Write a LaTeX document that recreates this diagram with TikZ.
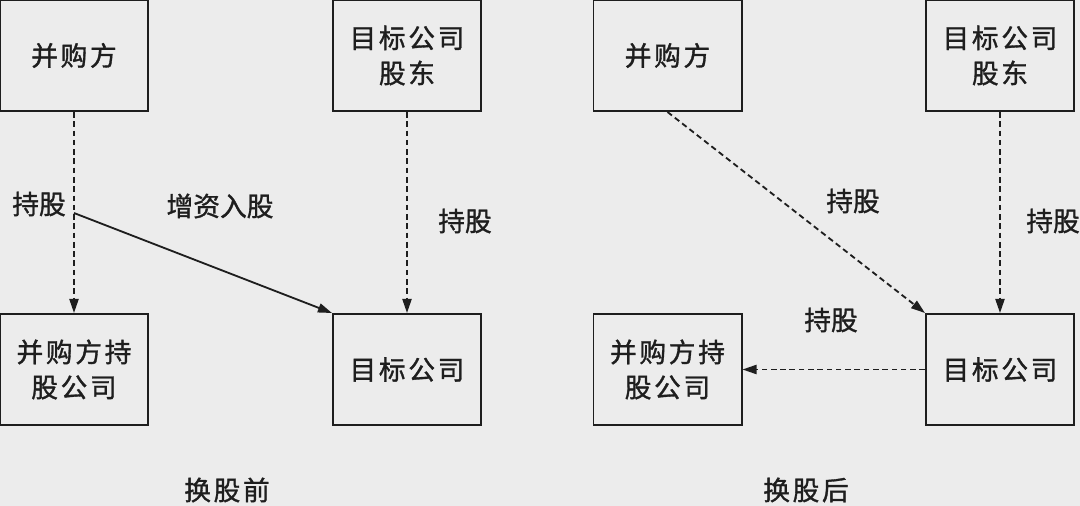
\documentclass[tikz,border=0pt]{standalone}
\usepackage{fontspec}
\setmainfont{Noto Sans CJK SC}
\newfontfamily\cjk[LetterSpace=10,FakeBold=1.2]{Noto Sans CJK SC}
\newfontfamily\cjklab[FakeBold=1.2]{Noto Sans CJK SC}
\usetikzlibrary{arrows.meta}
\definecolor{bg}{RGB}{236,236,236}
\definecolor{ink}{RGB}{30,30,30}
\tikzset{
  box/.style={draw=ink, line width=1.4pt, fill=bg, minimum width=3.7cm, minimum height=2.775cm,
    inner sep=0pt, align=center, font=\cjk\fontsize{19}{25}\selectfont, text=ink},
  lab/.style={font=\cjklab\fontsize{19}{22}\selectfont, text=ink, inner sep=0pt},
  captext/.style={font=\cjk\fontsize{19}{22}\selectfont, text=ink, inner sep=0pt},
  hold/.style={draw=ink, line width=1.3pt, dash pattern=on 4pt off 2.6pt, -{Triangle[length=10pt,width=6.5pt]}},
  inv/.style={draw=ink, line width=1.3pt, -{Triangle[length=10pt,width=6.5pt]}}
}
\begin{document}
\begin{tikzpicture}[x=0.025cm,y=-0.025cm]
\fill[bg] (0,0) rectangle (1080,506);
\useasboundingbox (0,0) rectangle (1080,506);
% left panel
\node[box] (buyL) at (74,55.5) {并购方};
\node[box] (shL) at (407,55.5) {目标公司\\股东};
\node[box] (holdL) at (74,369.5) {并购方持\\股公司};
\node[box] (tgtL) at (407,369.5) {目标公司};
\coordinate (midL) at (74,213);
\draw[hold] (buyL.south) -- (holdL.north);
\draw[hold] (shL.south) -- (tgtL.north);
\draw[inv] (midL) -- (tgtL.north west);
\node[lab] (l1) at (39,204) {持股};
\node[lab] (l2) at (220,206) {增资入股};
\node[lab] (l3) at (465,221) {持股};
\node[captext] (capL) at (227,490) {换股前};
% right panel
\node[box] (buyR) at (667.5,55.5) {并购方};
\node[box] (shR) at (1000,55.5) {目标公司\\股东};
\node[box] (holdR) at (667.5,369.5) {并购方持\\股公司};
\node[box] (tgtR) at (1000,369.5) {目标公司};
\draw[hold] (buyR.south) -- (tgtR.north west);
\draw[hold] (shR.south) -- (tgtR.north);
\draw[hold] (tgtR.west) -- (holdR.east);
\node[lab] (r1) at (853,201) {持股};
\node[lab] (r2) at (1053,221) {持股};
\node[lab] (r3) at (831,320) {持股};
\node[captext] (capR) at (806,490) {换股后};
\end{tikzpicture}
\end{document}
